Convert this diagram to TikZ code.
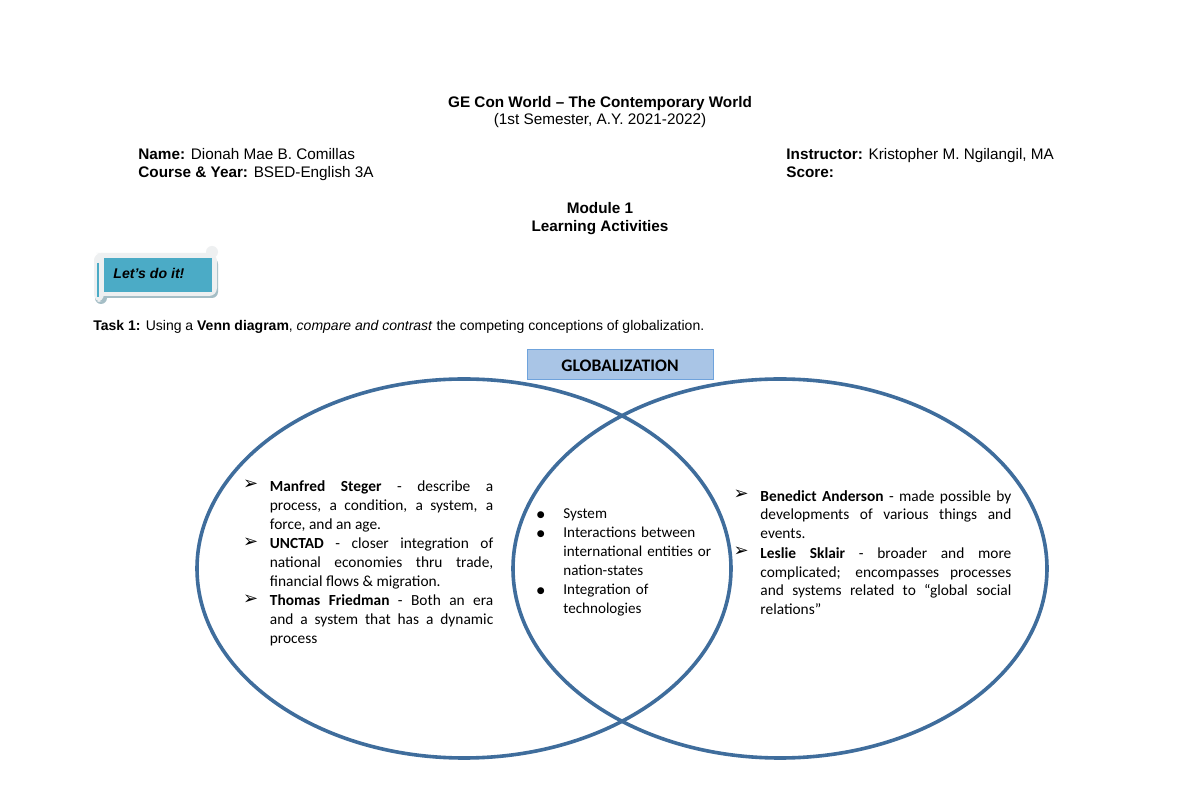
\documentclass[tikz,border=0pt]{standalone}
\usepackage{fontspec}
\setmainfont{Liberation Sans}
\newfontfamily\venn{Carlito}
\newfontfamily\sym{DejaVu Sans}
\usetikzlibrary{positioning,shapes.geometric}
\definecolor{ringblue}{HTML}{3F6D9C}
\definecolor{boxfill}{HTML}{A9C5E6}
\definecolor{boxline}{HTML}{6FA3DC}
\definecolor{tagblue}{HTML}{4BABC6}
\definecolor{scrollgrey}{HTML}{EEF0F1}
\definecolor{scrollshade}{HTML}{A5BEC6}
\tikzset{
  head/.style={inner sep=0pt,font=\fontsize{7.65}{9}\selectfont,align=center},
  info/.style={inner sep=0pt,anchor=base west,font=\fontsize{7.65}{9}\selectfont},
  ring/.style={draw=ringblue,line width=1.8pt,ellipse,minimum width=267pt,minimum height=189.5pt,inner sep=0pt},
  vennitem/.style={inner sep=0pt,anchor=north west,align=justify,font=\venn\fontsize{7.7}{9.4}\selectfont},
  arrowmark/.style={font=\sym\fontsize{9}{9}\selectfont,inner sep=0pt,anchor=north east,xshift=-5.5pt,yshift=-1pt},
  dotmark/.style={font=\sym\fontsize{4.5}{8}\selectfont,inner sep=0pt,anchor=north east,xshift=-9pt,yshift=-3.2pt}
}
\begin{document}
\begin{tikzpicture}[x=0.5pt,y=-0.5pt]
\useasboundingbox (0,0) rectangle (1200,785);
\fill[white] (0,0) rectangle (1200,785);
% heading
\node[head] (title) at (600,103.5) {\textbf{GE Con World -- The Contemporary World}};
\node[head] (term) at (600,121) {(1st Semester, A.Y. 2021-2022)};
\node[info] (name) at (138,160) {\textbf{Name:} Dionah Mae B. Comillas};
\node[info] (course) at (138,178) {\textbf{Course \& Year:} BSED-English 3A};
\node[info] (instr) at (786,160) {\textbf{Instructor:} Kristopher M. Ngilangil, MA};
\node[info] (score) at (786,178) {\textbf{Score:}};
\node[head] (module) at (600,208) {\textbf{Module 1}};
\node[head] (act) at (600,228) {\textbf{Learning Activities}};
% scroll tag
\fill[scrollshade,rounded corners=3pt] (97,258) rectangle (218,298);
\fill[scrollshade,rounded corners=3pt] (95,290) rectangle (107,304);
\fill[scrollgrey,rounded corners=4pt] (94,253) rectangle (217,296);
\fill[scrollgrey] (212,252) circle (6);
\fill[scrollgrey,rounded corners=4pt] (94,253) rectangle (104,302);
\draw[tagblue,line width=0.6pt] (98,263) -- (98,297);
\node[fill=tagblue,minimum width=54pt,minimum height=17pt,inner sep=0pt] (tag) at (158,275) {};
\node[head,anchor=west,font=\fontsize{7.05}{9}\selectfont] (dotext) at (113,273) {\textit{\textbf{Let's do it!}}};
% task line
\node[info,font=\fontsize{7}{9}\selectfont] (task) at (93,331) {\textbf{Task 1:} Using a \textbf{Venn diagram}, \textit{compare and contrast} the competing conceptions of globalization.};
% venn
\node[ring] (left) at (464,568.5) {};
\node[ring] (right) at (780,568.5) {};
\node[draw=boxline,fill=boxfill,line width=0.5pt,minimum width=93pt,minimum height=15pt,inner sep=0pt,font=\venn\fontsize{8.8}{10}\selectfont] (topic) at (620,365) {\raisebox{-3.3pt}[0pt][0pt]{\textbf{GLOBALIZATION}}};
% left text
\node[vennitem,text width=111.7pt] (steger) at (269.5,478) {\strut\textbf{Manfred Steger} - describe a\linebreak process, a condition, a system, a\linebreak force, and an age.\strut};
\node[vennitem,text width=111.7pt,below=0pt of steger.south west,anchor=north west] (unctad) {\strut\textbf{UNCTAD} - closer integration of\linebreak national economies thru trade,\linebreak financial flows \& migration.\strut};
\node[vennitem,text width=111.7pt,below=0pt of unctad.south west,anchor=north west] (friedman) {\strut\textbf{Thomas Friedman} - Both an era\linebreak and a system that has a dynamic\linebreak process\strut};
% middle text
\node[vennitem,text width=80pt,align=left,font=\venn\fontsize{7.55}{9.4}\selectfont] (sys) at (563,504.5) {\strut System\strut};
\node[vennitem,text width=80pt,align=left,font=\venn\fontsize{7.55}{9.4}\selectfont,below=0pt of sys.south west,anchor=north west] (inter) {\strut Interactions between\\international entities or\\nation-states\strut};
\node[vennitem,text width=80pt,align=left,font=\venn\fontsize{7.55}{9.4}\selectfont,below=0pt of inter.south west,anchor=north west] (integ) {\strut Integration of\\technologies\strut};
% right text
\node[vennitem,text width=125.5pt] (anderson) at (760,487.5) {\strut\textbf{Benedict Anderson} - made possible by\linebreak developments of various things and\linebreak events.\strut};
\node[vennitem,text width=125.5pt,below=0pt of anderson.south west,anchor=north west] (sklair) {\strut\textbf{Leslie Sklair} - broader and more\linebreak complicated; encompasses processes\linebreak and systems related to “global social\linebreak relations”\strut};
% bullets
\foreach \itm in {steger,unctad,friedman,anderson,sklair}
  \node[arrowmark] at (\itm.north west) {➢};
\foreach \itm in {sys,inter,integ}
  \node[dotmark] at (\itm.north west) {●};
\end{tikzpicture}
\end{document}
